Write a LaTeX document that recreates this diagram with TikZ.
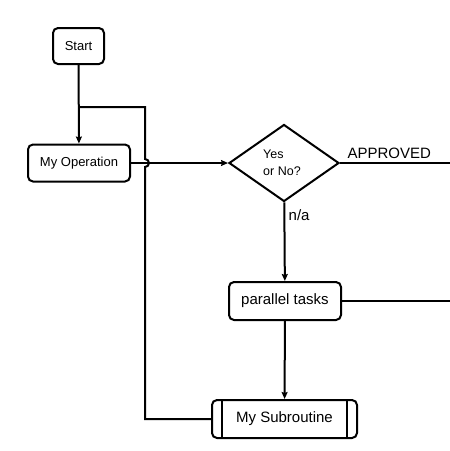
\documentclass[tikz,border=0pt]{standalone}
\usepackage{fontspec}
\setmainfont{Liberation Sans}
\usetikzlibrary{positioning}
\usetikzlibrary{shapes.geometric}
\usetikzlibrary{arrows.meta}

\begin{document}
\begin{tikzpicture}[x=1pt,y=-1pt
            ,line width=2pt
            ,tip/.style={-{Stealth[length=7pt,width=6pt,inset=1pt]}}
            ,box/.style={draw,rounded corners=5pt,align=center,inner sep=0pt}
            ,decide/.style={draw,diamond,aspect=1.43,inner sep=0pt
                           ,minimum width=110pt,minimum height=77pt}
            ,small/.style={font=\fontsize{13}{15}\selectfont}
            ,big/.style={font=\fontsize{15}{17}\selectfont}]
  \useasboundingbox (0,0) rectangle (450,451);
  \node[box,small,minimum width=51pt,minimum height=36pt] (start) at (78.5,46) {Start};
  \node[box,small,minimum width=102pt,minimum height=37pt] (op) at (79,163) {My Operation};
  \node[decide] (dec) at (284,163) {};
  \node[align=left,font=\fontsize{12.5}{17}\selectfont] (q) at (282,163) {Yes\\or No?};
  \node[box,big,minimum width=112pt,minimum height=38pt] (par) at (285,301) {parallel tasks};
  \node[box,big,minimum width=145pt,minimum height=38pt] (sub) at (284.5,419) {My Subroutine};
  \draw ([xshift=11pt]sub.north west) -- ([xshift=11pt]sub.south west)
        ([xshift=-11pt]sub.north east) -- ([xshift=-11pt]sub.south east);
  % loop back, jumping over the line to the decision
  \coordinate (join) at (78.5,107);
  \coordinate (turn) at (145,107);
  \draw (join) -- (turn) -- (145,159) arc[start angle=-90,end angle=90,radius=4]
        |- (sub.west);
  % main flow
  \path[tip]
    (start) edge (op)
    (op) edge (dec)
    (dec) edge node [right,big,pos=0.16] {n/a} (par)
    (par) edge (sub)
    ;
  \draw (dec.east) -- (450,163) node [big,pos=0.03,anchor=south west] {APPROVED};
  \draw (par.east) -- (450,301);
\end{tikzpicture}
\end{document}
